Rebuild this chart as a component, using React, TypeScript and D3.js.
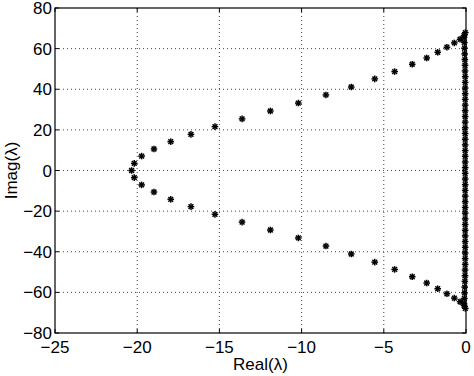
import React from "react";
import * as d3 from "d3";

// Branch eigenvalues (upper half, then lower half)
const branchReal = [
  -20.34, -20.18, -19.73, -18.98, -17.96, -16.73, -15.27, -13.62, -11.9, -10.2, -8.52,
  -6.98, -5.55, -4.34, -3.27, -2.39, -1.72, -1.16, -0.71, -0.36, -0.12, -0.04,
  -20.18, -19.73, -18.98, -17.96, -16.73, -15.27, -13.62, -11.9, -10.2, -8.52,
  -6.98, -5.55, -4.34, -3.27, -2.39, -1.72, -1.16, -0.71, -0.36, -0.12, -0.04,
];
const branchImag = [
  0, 3.5, 7.1, 10.6, 14.2, 17.8, 21.6, 25.4, 29.3, 33.2, 37.2,
  41.1, 45.1, 48.7, 52.3, 55.4, 58.2, 60.7, 62.8, 64.6, 66.4, 67.9,
  -3.5, -7.1, -10.6, -14.2, -17.8, -21.6, -25.4, -29.3, -33.2, -37.2,
  -41.1, -45.1, -48.7, -52.3, -55.4, -58.2, -60.7, -62.8, -64.6, -66.4, -67.9,
];

// Near-imaginary-axis eigenvalues
const columnImag = [
  1.4, 4.2, 7.0, 9.8, 12.6, 15.4, 18.2, 21.0, 23.8, 26.6, 29.4, 32.2,
  35.0, 37.8, 40.6, 43.4, 46.2, 49.0, 51.8, 54.6, 57.4, 60.2, 63.0, 65.6,
  -1.4, -4.2, -7.0, -9.8, -12.6, -15.4, -18.2, -21.0, -23.8, -26.6, -29.4, -32.2,
  -35.0, -37.8, -40.6, -43.4, -46.2, -49.0, -51.8, -54.6, -57.4, -60.2, -63.0, -65.6,
];
const columnReal = [
  -0.05, -0.05, -0.05, -0.05, -0.05, -0.05, -0.05, -0.05, -0.05, -0.05, -0.05, -0.05,
  -0.05, -0.05, -0.05, -0.05, -0.05, -0.06, -0.06, -0.07, -0.08, -0.09, -0.1, -0.12,
  -0.05, -0.05, -0.05, -0.05, -0.05, -0.05, -0.05, -0.05, -0.05, -0.05, -0.05, -0.05,
  -0.05, -0.05, -0.05, -0.05, -0.05, -0.06, -0.06, -0.07, -0.08, -0.09, -0.1, -0.12,
];

const xTicks = [-25, -20, -15, -10, -5, 0];
const yTicks = [-80, -60, -40, -20, 0, 20, 40, 60, 80];

const fmt = (v: number) => (v < 0 ? "\u2212" + Math.abs(v) : String(v));

export default function App() {
  const W = 474, H = 376;
  const L = 55, R = 466, T = 8, B = 333;
  const x = d3.scaleLinear().domain([-25, 0]).range([L, R]);
  const y = d3.scaleLinear().domain([-80, 80]).range([B, T]);

  const pts = [
    ...branchReal.map((r, i) => [r, branchImag[i]]),
    ...columnReal.map((r, i) => [r, columnImag[i]]),
  ];

  const s = 3.3;
  const d = s * 0.72;
  const star = (cx: number, cy: number, k: number) => (
    <g key={k} stroke="#000" strokeWidth={1.5}>
      <line x1={cx - s} y1={cy} x2={cx + s} y2={cy} />
      <line x1={cx} y1={cy - s} x2={cx} y2={cy + s} />
      <line x1={cx - d} y1={cy - d} x2={cx + d} y2={cy + d} />
      <line x1={cx - d} y1={cy + d} x2={cx + d} y2={cy - d} />
    </g>
  );

  const font = "'Liberation Sans', Arial, Helvetica, sans-serif";

  return (
    <svg width={W} height={H} style={{ position: "absolute", left: 0, top: 0, background: "#fff" }}>
      <rect x={0} y={0} width={W} height={H} fill="#fff" />
      {/* grid */}
      <g stroke="#444" strokeWidth={1} strokeDasharray="1 3">
        {xTicks.slice(1, -1).map((t) => (
          <line key={"gx" + t} x1={x(t)} x2={x(t)} y1={T} y2={B} />
        ))}
        {yTicks.slice(1, -1).map((t) => (
          <line key={"gy" + t} x1={L} x2={R} y1={y(t)} y2={y(t)} />
        ))}
      </g>
      {/* ticks */}
      <g stroke="#000" strokeWidth={1}>
        {xTicks.map((t) => (
          <g key={"tx" + t}>
            <line x1={x(t)} x2={x(t)} y1={B} y2={B - 4} />
            <line x1={x(t)} x2={x(t)} y1={T} y2={T + 4} />
          </g>
        ))}
        {yTicks.map((t) => (
          <g key={"ty" + t}>
            <line x1={L} x2={L + 4} y1={y(t)} y2={y(t)} />
            <line x1={R} x2={R - 4} y1={y(t)} y2={y(t)} />
          </g>
        ))}
      </g>
      {/* box */}
      <rect x={L} y={T} width={R - L} height={B - T} fill="none" stroke="#000" strokeWidth={1.2} />
      {/* points */}
      {pts.map((p, i) => star(x(p[0]), y(p[1]), i))}
      {/* tick labels */}
      <g fontFamily={font} fontSize={17} fill="#000">
        {xTicks.map((t) => (
          <text key={"lx" + t} x={x(t)} y={353} textAnchor="middle">
            {fmt(t)}
          </text>
        ))}
        {yTicks.map((t) => (
          <text key={"ly" + t} x={L - 3} y={y(t)} dy="0.36em" textAnchor="end">
            {fmt(t)}
          </text>
        ))}
        <text x={(L + R) / 2} y={370} textAnchor="middle">Real(λ)</text>
        <text transform={`translate(17, ${(T + B) / 2}) rotate(-90)`} textAnchor="middle">Imag(λ)</text>
      </g>
    </svg>
  );
}
